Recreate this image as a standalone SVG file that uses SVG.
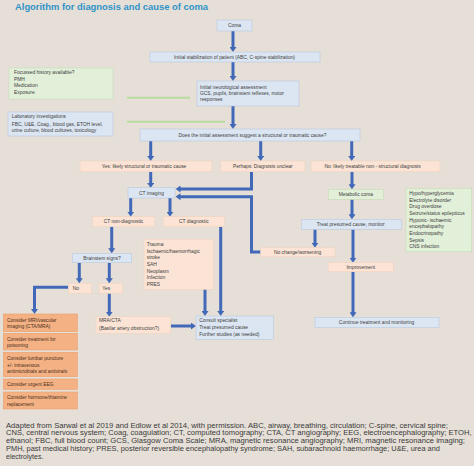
<svg xmlns="http://www.w3.org/2000/svg" width="474" height="466" viewBox="0 0 474 466">
<defs>
<style>
.b{fill:#dce6f2;stroke:#b9c9e0;stroke-width:0.6}
.p{fill:#fbe4d5;stroke:#f2d3bd;stroke-width:0.6}
.g{fill:#e2efd9;stroke:#c6ddb5;stroke-width:0.6}
.o{fill:#f4b183;stroke:#eaa06c;stroke-width:0.6}
.t{font-family:"Liberation Sans",Arial,sans-serif;font-size:4.9px;fill:#3d3d3d}
.to{font-family:"Liberation Sans",Arial,sans-serif;font-size:4.9px;fill:#4a2e1c}
.c{text-anchor:middle}
.con{fill:none;stroke:#4169b8;stroke-width:3;marker-end:url(#ah)}
.gl{fill:none;stroke:#b8dca0;stroke-width:2}
.ft{font-family:"Liberation Sans",Arial,sans-serif;font-size:7px;fill:#3a3a3a}
</style>
<marker id="ah" markerUnits="userSpaceOnUse" viewBox="0 0 5 7" markerWidth="5" markerHeight="7" refX="1" refY="3.5" orient="auto">
<path d="M0,0 L5,3.5 L0,7 z" fill="#4169b8"/>
</marker>
</defs>
<rect x="0" y="0" width="474" height="466" fill="#e5dfd7"/>
<text x="15" y="9.8" font-family="Liberation Sans,Arial,sans-serif" font-size="9.5" font-weight="bold" fill="#2f93c8" textLength="193" lengthAdjust="spacingAndGlyphs">Algorithm for diagnosis and cause of coma</text>

<g id="connectors">
<path class="gl" d="M127,97.7 H190"/>
<path class="gl" d="M127,121.7 H225"/>
<path class="con" d="M233,31 V48"/>
<path class="con" d="M233,62 V77"/>
<path class="con" d="M233,106 V125"/>
<path class="con" d="M150.7,141 V157"/>
<path class="con" d="M260.7,141 V157"/>
<path class="con" d="M351.7,141 V157"/>
<path class="con" d="M150.7,172 V184"/>
<path class="con" d="M251.5,172 V189 H179.5"/>
<path class="con" d="M260.7,252 H251.5 V196.7 H179.5"/>
<path class="con" d="M130.7,198 V212.7"/>
<path class="con" d="M170,198 V212.7"/>
<path class="con" d="M111.7,226.7 V249.3"/>
<path class="con" d="M79.3,262.7 V279.3"/>
<path class="con" d="M109.3,262.7 V279.3"/>
<path class="con" d="M68.3,287.3 H34.5 V310"/>
<path class="con" d="M109.3,293.3 V312.7"/>
<path class="con" d="M170.7,326 H192"/>
<path class="con" d="M205,289.3 V312"/>
<path class="con" d="M220.7,226.7 V312"/>
<path class="con" d="M352,172 V185.3"/>
<path class="con" d="M352,199.3 V215.3"/>
<path class="con" d="M315,229.3 V243.7"/>
<path class="con" d="M353,229.3 V258.7"/>
<path class="con" d="M353,271.7 V313.3"/>
</g>

<g id="coma"><rect class="b" x="217" y="20" width="35" height="11"/><text class="t c" x="234.5" y="27.3">Coma</text></g>
<g id="stabilization"><rect class="b" x="150" y="52" width="170" height="10"/><text class="t c" x="234.5" y="58.6">Initial stabilization of patient (ABC, C-spine stabilization)</text></g>
<g id="neuro"><rect class="b" x="197" y="81" width="102" height="25"/>
<text class="t" x="200" y="88.8">Initial neurological assessment</text>
<text class="t" x="200" y="94.8">GCS, pupils, brainstem reflexes, motor</text>
<text class="t" x="200" y="100.6">responses</text></g>
<g id="history"><rect class="g" x="9" y="68" width="104" height="31"/>
<text class="t" x="14" y="73.6">Focussed history available?</text>
<text class="t" x="14" y="80.6">PMH</text>
<text class="t" x="14" y="87.2">Medication</text>
<text class="t" x="14" y="93.8">Exposure</text></g>
<g id="lab"><rect class="b" x="8" y="112" width="105" height="24"/>
<text class="t" x="11.7" y="118.3">Laboratory investigations</text>
<text class="t" x="11.7" y="125.5">FBC, U&amp;E, Coag., blood gas, ETOH level,</text>
<text class="t" x="11.7" y="132.2">urine culture, blood cultures, toxicology</text></g>
<g id="question"><rect class="b" x="140" y="129" width="220" height="12"/><text class="t c" x="252.5" y="136.6">Does the initial assessment suggest a structural or traumatic cause?</text></g>
<g id="yes-structural"><rect class="p" x="80" y="161" width="132" height="10.7"/><text class="t c" x="144" y="168">Yes: likely structural or traumatic cause</text></g>
<g id="perhaps"><rect class="p" x="220.7" y="161" width="84.3" height="10.7"/><text class="t c" x="262.8" y="168">Perhaps: Diagnosis unclear</text></g>
<g id="no-structural"><rect class="p" x="311" y="161" width="129" height="10.7"/><text class="t c" x="372.5" y="168">No: likely treatable non - structural diagnosis</text></g>
<g id="ct-imaging"><rect class="b" x="128" y="187.7" width="47" height="10.3"/><text class="t c" x="151.5" y="194.6">CT imaging</text></g>
<g id="ct-nondiag"><rect class="p" x="92.7" y="216.7" width="61.6" height="10"/><text class="t c" x="123.5" y="223.4">CT non-diagnostic</text></g>
<g id="ct-diag"><rect class="p" x="163.3" y="216.7" width="61" height="10"/><text class="t c" x="193.8" y="223.4">CT diagnostic</text></g>
<g id="brainstem"><rect class="b" x="72.7" y="253.3" width="59" height="9.4"/><text class="t c" x="102" y="259.7">Brainstem signs?</text></g>
<g id="no-brainstem"><rect class="p" x="68.3" y="283.3" width="23.4" height="10"/><text class="t" x="72.7" y="290">No</text></g>
<g id="yes-brainstem"><rect class="p" x="99" y="283.3" width="23.7" height="10"/><text class="t" x="102.3" y="290">Yes</text></g>
<g id="causes"><rect class="p" x="144" y="239.3" width="69.5" height="50"/>
<text class="t" x="146.7" y="245.9">Trauma</text>
<text class="t" x="146.7" y="252.6">Ischaemic/haemorrhagic</text>
<text class="t" x="146.7" y="259.3">stroke</text>
<text class="t" x="146.7" y="265.9">SAH</text>
<text class="t" x="146.7" y="272.6">Neoplasm</text>
<text class="t" x="146.7" y="279.3">Infection</text>
<text class="t" x="146.7" y="285.9">PRES</text></g>
<g id="mra"><rect class="p" x="96" y="316.7" width="74.7" height="16.6"/>
<text class="t" x="99" y="322.3">MRA/CTA</text>
<text class="t" x="99" y="329.9">(Basilar artery obstruction?)</text></g>
<g id="consult"><rect class="b" x="196" y="316" width="77.3" height="23.3"/>
<text class="t" x="199.3" y="322.3">Consult specialist</text>
<text class="t" x="199.3" y="328.9">Treat presumed cause</text>
<text class="t" x="199.3" y="335.6">Further studies (as needed)</text></g>
<g id="consider-mri"><rect class="o" x="3.3" y="314" width="74" height="17.7"/>
<text class="to" x="7" y="321.6">Consider MRI/vascular</text>
<text class="to" x="7" y="328.3">imaging (CTA/MRA)</text></g>
<g id="consider-poison"><rect class="o" x="3.3" y="333.3" width="74" height="16.7"/>
<text class="to" x="7" y="340.6">Consider treatment for</text>
<text class="to" x="7" y="347.3">poisoning</text></g>
<g id="consider-lp"><rect class="o" x="3.3" y="352.3" width="74" height="24.4"/>
<text class="to" x="7" y="359.9">Consider lumbar puncture</text>
<text class="to" x="7" y="366.6">+/- intravenous</text>
<text class="to" x="7" y="373.3">antimicrobials and antivirals</text></g>
<g id="consider-eeg"><rect class="o" x="3.3" y="379" width="74" height="10.3"/>
<text class="to" x="7" y="385.9">Consider urgent EEG</text></g>
<g id="consider-hormone"><rect class="o" x="3.3" y="392" width="74" height="17"/>
<text class="to" x="7" y="398.9">Consider hormone/thiamine</text>
<text class="to" x="7" y="405.7">replacement</text></g>
<g id="no-change"><rect class="p" x="260.7" y="247.7" width="74.3" height="9"/><text class="t c" x="297.6" y="253.9">No change/worsening</text></g>
<g id="metabolic"><rect class="g" x="328.3" y="189.3" width="55" height="10"/><text class="t c" x="355.8" y="196">Metabolic coma</text></g>
<g id="metabolic-list"><rect class="g" x="406" y="188.5" width="65.7" height="63.2"/>
<text class="t" x="409.3" y="195">Hypo/hyperglycemia</text>
<text class="t" x="409.3" y="201.7">Electrolyte disorder</text>
<text class="t" x="409.3" y="208.3">Drug overdose</text>
<text class="t" x="409.3" y="215">Seizure/status epilepticus</text>
<text class="t" x="409.3" y="221.7">Hypoxic- ischaemic</text>
<text class="t" x="409.3" y="228.3">encephalopathy</text>
<text class="t" x="409.3" y="235">Endocrinopathy</text>
<text class="t" x="409.3" y="241.7">Sepsis</text>
<text class="t" x="409.3" y="248.3">CNS infection</text></g>
<g id="treat"><rect class="b" x="301.7" y="219.3" width="99.7" height="10"/><text class="t c" x="350.7" y="226">Treat presumed cause, monitor</text></g>
<g id="improvement"><rect class="p" x="328.3" y="262.7" width="65" height="9"/><text class="t c" x="360.8" y="268.9">Improvement</text></g>
<g id="continue"><rect class="b" x="315" y="317.3" width="124" height="10.4"/><text class="t c" x="376.5" y="324.2">Continue treatment and monitoring</text></g>

<g id="footnote">
<text class="ft" x="6" y="427.5" textLength="442" lengthAdjust="spacingAndGlyphs">Adapted from Sarwal et al 2019 and Edlow et al 2014, with permission. ABC, airway, breathing, circulation; C-spine, cervical spine;</text>
<text class="ft" x="6" y="435.4" textLength="465.5" lengthAdjust="spacingAndGlyphs">CNS, central nervous system; Coag, coagulation; CT, computed tomography; CTA, CT angiography; EEG, electroencephalography; ETOH,</text>
<text class="ft" x="6" y="443.3" textLength="459" lengthAdjust="spacingAndGlyphs">ethanol; FBC, full blood count; GCS, Glasgow Coma Scale; MRA, magnetic resonance angiography; MRI, magnetic resonance imaging;</text>
<text class="ft" x="6" y="451.2" textLength="434" lengthAdjust="spacingAndGlyphs">PMH, past medical history; PRES, posterior reversible encephalopathy syndrome; SAH, subarachnoid haemorrhage; U&amp;E, urea and</text>
<text class="ft" x="6" y="459">electrolytes.</text>
</g>
</svg>
